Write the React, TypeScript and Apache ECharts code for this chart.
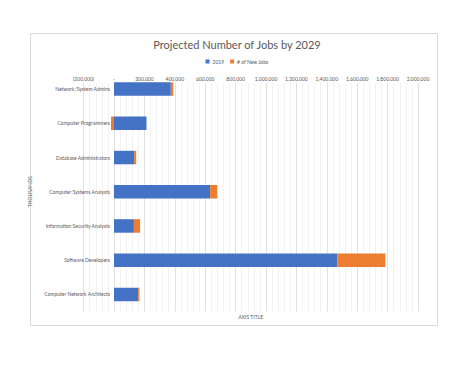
import React, { useEffect, useRef } from "react";
import * as echarts from "echarts";

const categories = [
  "Network/System Admins",
  "Computer Programmers",
  "Database Administrators",
  "Computer Systems Analysts",
  "Information Security Analysts",
  "Software Developers",
  "Computer Network Architects",
];
const jobs2019 = [373900, 213900, 132500, 632400, 131000, 1469200, 159300];
const newJobs = [15900, -19900, 13300, 46600, 40900, 316000, 8400];
const seriesNames = ["2019", "# of New Jobs"];
const axisMin = -200000;
const axisMax = 2000000;
const axisStep = 200000;

const fmt = (v: number) => {
  if (v === 0) return "-";
  const s = Math.abs(v).toLocaleString("en-US");
  return v < 0 ? "(" + s + ")" : s;
};

export default function App() {
  const ref = useRef<HTMLDivElement>(null);
  useEffect(() => {
    document.body.style.margin = "0";
    const chart = echarts.init(ref.current!, null, { renderer: "svg" });
    const font = "Lato";
    const grey = "#595959";
    chart.setOption({
      animation: false,
      backgroundColor: "#ffffff",
      textStyle: { fontFamily: font },
      title: {
        text: "Projected Number of Jobs by 2029",
        left: "center",
        top: 33.5,
        textStyle: { fontSize: 11, fontWeight: "normal", color: grey, fontFamily: font },
      },
      legend: {
        top: 54,
        left: "center",
        itemWidth: 4,
        itemHeight: 4,
        itemGap: 6,
        icon: "rect",
        textStyle: { fontSize: 5, color: grey, padding: [0, 0, 0, -2] },
        data: seriesNames,
      },
      grid: {
        left: 83.6,
        right: 56,
        top: 72,
        bottom: 54.5,
        containLabel: false,
        outerBoundsMode: "none",
      },
      xAxis: [
        {
          type: "value",
          min: axisMin,
          max: axisMax,
          interval: axisStep,
          position: "bottom",
          name: "AXIS TITLE",
          nameLocation: "middle",
          nameGap: 3,
          nameTextStyle: { fontSize: 5, color: grey },
          axisLabel: { show: false },
          axisLine: { show: false },
          axisTick: { show: false },
          splitLine: { show: true, lineStyle: { color: "#d9d9d9", width: 0.8 } },
          minorTick: { show: false, splitNumber: 5 },
          minorSplitLine: { show: true, lineStyle: { color: "#efefef", width: 0.8 } },
        },
        {
          type: "value",
          min: axisMin,
          max: axisMax,
          interval: axisStep,
          position: "top",
          z: 10,
          axisLabel: { show: true, fontSize: 5, color: grey, margin: -9, formatter: fmt },
          axisLine: { show: false },
          axisTick: { show: false },
          splitLine: { show: false },
        },
      ],
      yAxis: {
        type: "category",
        inverse: true,
        data: categories,
        offset: -30.4,
        name: "THOUSANDS",
        nameLocation: "middle",
        nameRotate: 90,
        nameGap: 72,
        nameTextStyle: { fontSize: 5, color: grey },
        axisLine: { show: false },
        axisTick: { show: false },
        axisLabel: { fontSize: 5, color: grey, margin: 4 },
        z: 5,
      },
      graphic: [
        {
          type: "rect",
          shape: { x: 30.5, y: 33.5, width: 407, height: 292 },
          style: { fill: "none", stroke: "#d9d9d9", lineWidth: 1 },
          z: 1,
        },
        {
          type: "rect",
          shape: { x: 80, y: 71, width: 345, height: 12 },
          style: { fill: "#ffffff" },
          z: 2,
        },
      ],
      series: [
        {
          name: seriesNames[0],
          type: "bar",
          stack: "total",
          xAxisIndex: 0,
          barWidth: 13.5,
          itemStyle: { color: "#4472C4" },
          data: jobs2019,
        },
        {
          name: seriesNames[1],
          type: "bar",
          stack: "total",
          xAxisIndex: 0,
          barWidth: 13.5,
          itemStyle: { color: "#ED7D31" },
          data: newJobs,
        },
      ],
    });
    return () => chart.dispose();
  }, []);
  return <div ref={ref} style={{ width: 474, height: 366 }} />;
}
